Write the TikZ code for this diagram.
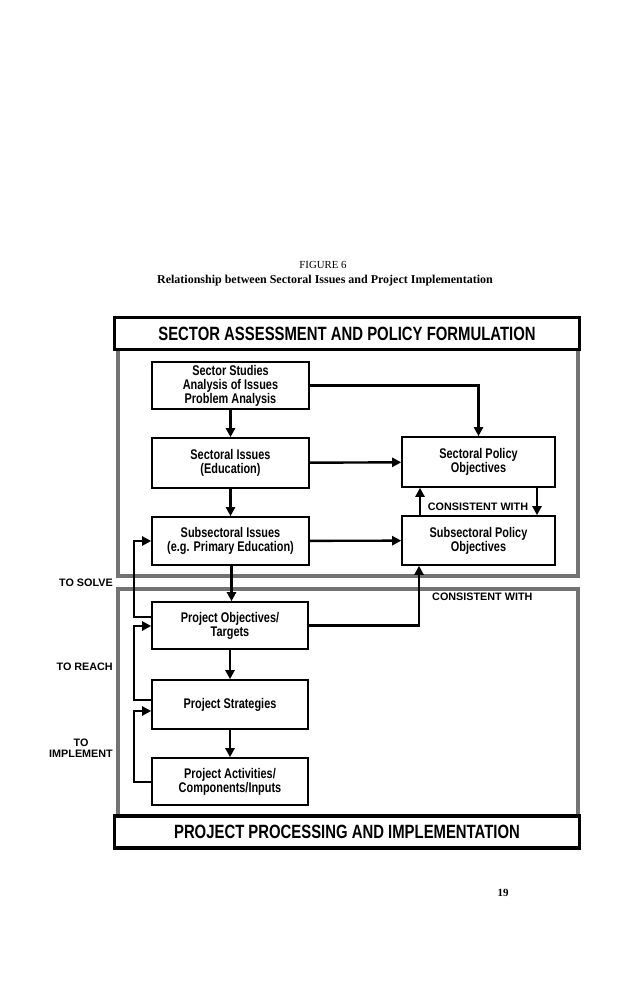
\documentclass[tikz,border=0pt]{standalone}
\usepackage{fontspec}
\setmainfont{Liberation Serif}
\newfontfamily\condf{Liberation Sans}[FakeStretch=0.78]
\newfontfamily\headf{Liberation Sans}[FakeStretch=0.775]
\newfontfamily\labf{Liberation Sans}
\usetikzlibrary{arrows.meta}
\begin{document}
\begin{tikzpicture}[x=1pt,y=-1pt,
  box/.style={draw, line width=1.6pt, minimum width=157pt, align=center, inner sep=0pt,
    font=\condf\bfseries\fontsize{14}{14}\selectfont},
  bar/.style={draw, fill=white, line width=3.5pt, minimum width=465pt, minimum height=32pt, inner sep=0pt,
    font=\headf\bfseries\fontsize{19.2}{22}\selectfont},
  panel/.style={draw=black!55, line width=4.5pt},
  conn/.style={line width=2.4pt, -{Triangle[length=9pt,width=9pt]}},
  lab/.style={font=\labf\bfseries\fontsize{10.8}{11}\selectfont, inner sep=0pt}
]
\fill[white] (0,0) rectangle (638,987);
\useasboundingbox (0,0) rectangle (638,987);

% title
\node[font=\fontsize{10.8}{12}\selectfont] (fig) at (323,265) {FIGURE 6};
\node[font=\bfseries\fontsize{12}{13}\selectfont] (cap) at (325,281) {Relationship between Sectoral Issues and Project Implementation};

% panels
\draw[panel] (118,330) rectangle (578,576);
\draw[panel] (118,589) rectangle (578,830);
\node[bar] (hdr) at (347,333.5) {SECTOR ASSESSMENT AND POLICY FORMULATION};
\node[bar] (ftr) at (347,832) {PROJECT PROCESSING AND IMPLEMENTATION};

% boxes
\node[box, minimum height=47pt] (ss) at (230.5,385.5) {Sector Studies\\Analysis of Issues\\Problem Analysis};
\node[box, minimum height=50pt] (si) at (230.5,463) {Sectoral Issues\\(Education)};
\node[box, minimum height=48pt] (sub) at (230.5,541) {Subsectoral Issues\\(e.g. Primary Education)};
\node[box, minimum width=153pt, minimum height=50pt] (sp) at (478.5,462) {Sectoral Policy\\Objectives};
\node[box, minimum width=153pt, minimum height=49pt] (ssp) at (478.5,540.5) {Subsectoral Policy\\Objectives};
\node[box, minimum width=156pt, minimum height=47pt] (po) at (230,625.5) {Project Objectives/\\Targets};
\node[box, minimum width=156pt, minimum height=49pt] (ps) at (230,704.5) {Project Strategies};
\node[box, minimum width=156pt, minimum height=47pt] (pa) at (230,781.5) {Project Activities/\\Components/Inputs};

% connectors
\draw[conn] (ss) -- (si);
\draw[conn] (ss.east) -| (sp.north);
\draw[conn] (si) -- (sp);
\draw[conn] (si) -- (sub);
\draw[conn] (sub) -- (ssp);
\draw[conn] (ssp.north -| 420,0) -- (sp.south -| 420,0);
\draw[conn] (sp.south -| 537,0) -- (ssp.north -| 537,0);
\draw[conn] (sub.south -| 231.5,0) -- (po.north -| 231.5,0);
\draw[conn] (po.east) -| (ssp.south -| 419,0);
\draw[conn] (po) -- (ps);
\draw[conn] (ps) -- (pa);

% feedback loops
\coordinate (lx) at (134,0);
\draw[conn] (po.west |- 0,617) -| (lx |- sub.west) -- (sub.west);
\draw[conn] (ps.west |- 0,700) -| (lx |- 0,626) -- (po.west |- 0,626);
\draw[conn] (pa.west |- 0,782) -| (lx |- 0,711) -- (ps.west |- 0,711);

% labels
\node[lab] (c1) at (478,507) {CONSISTENT WITH};
\node[lab, anchor=west] (c2) at (432,597) {CONSISTENT WITH};
\node[lab, anchor=east] (l1) at (113,583) {TO SOLVE};
\node[lab, anchor=east] (l2) at (113,667) {TO REACH};
\node[lab, anchor=east, align=center, font=\labf\bfseries\fontsize{10.8}{10.5}\selectfont] (l3) at (113,748) {TO\\IMPLEMENT};

% page number
\node[font=\bfseries\fontsize{11}{12}\selectfont] (pg) at (503,893) {19};
\end{tikzpicture}
\end{document}
